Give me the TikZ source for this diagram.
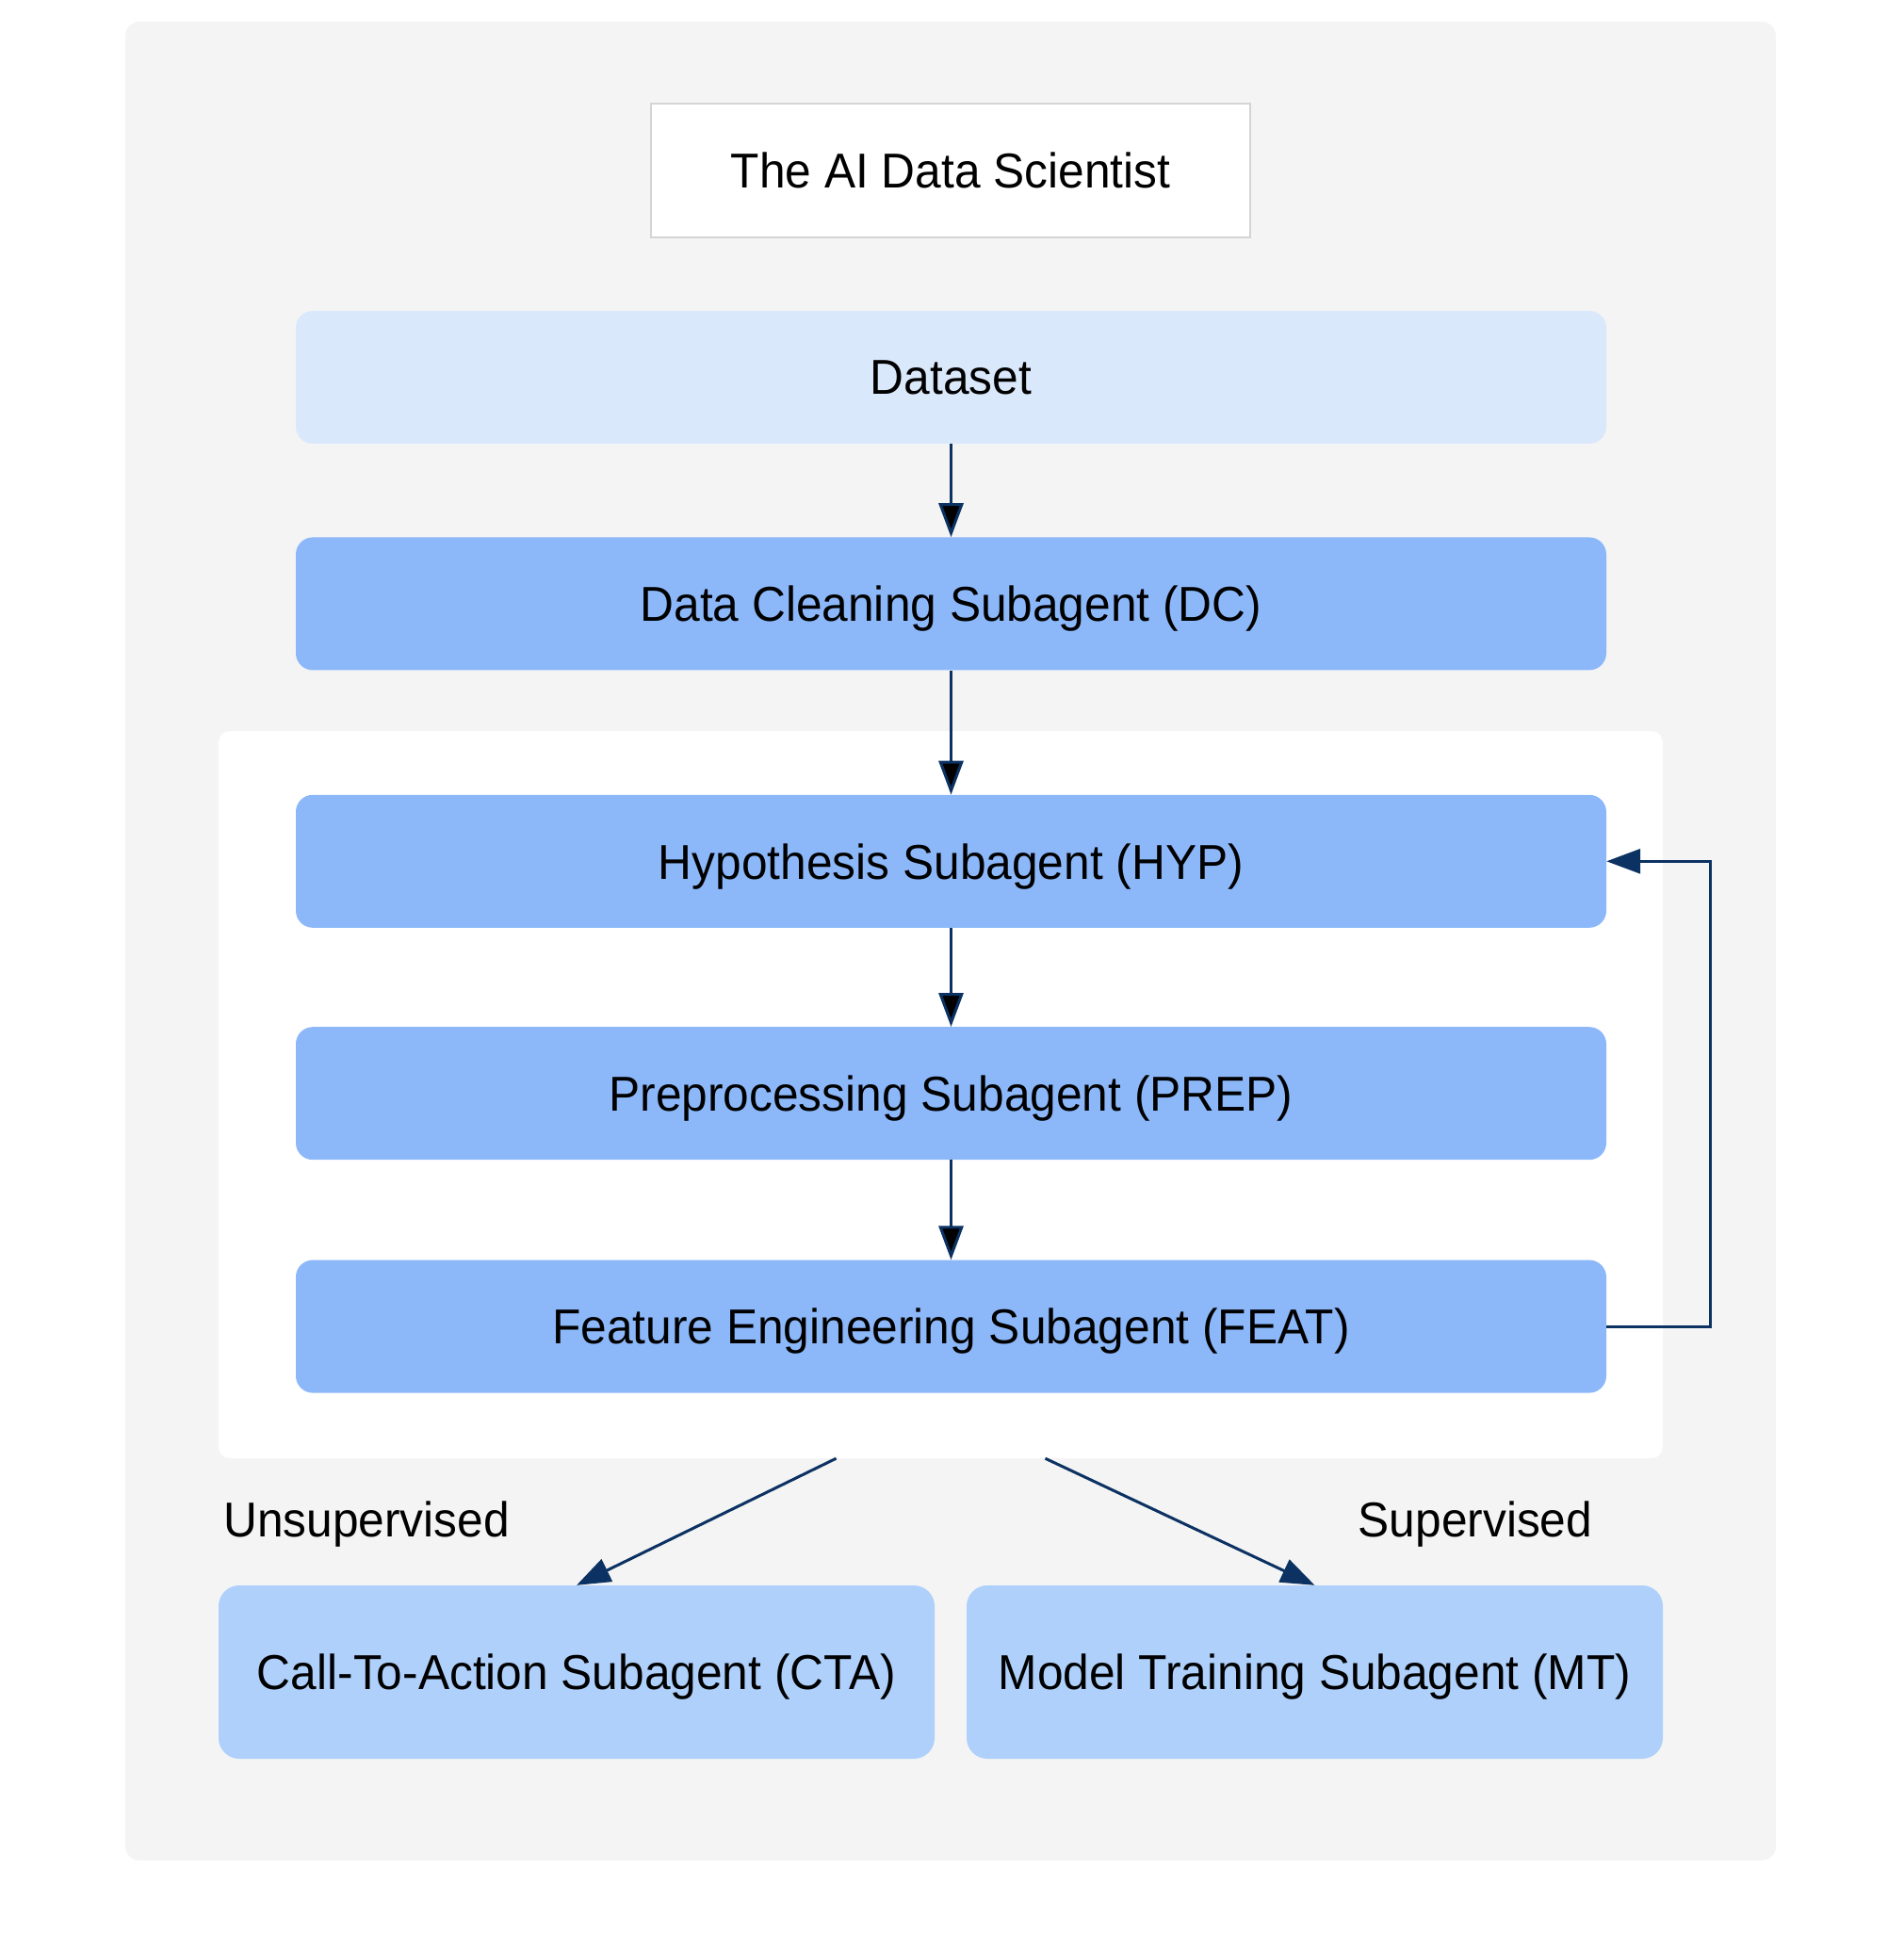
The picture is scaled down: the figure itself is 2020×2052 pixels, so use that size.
\documentclass[tikz,border=0pt]{standalone}
\usepackage{fontspec}
\setmainfont{Liberation Sans}[FakeStretch=0.955]
\usetikzlibrary{arrows.meta,positioning}
\definecolor{panelgray}{HTML}{F4F4F4}
\definecolor{titleline}{HTML}{D4D4D4}
\definecolor{datablue}{HTML}{DAE8FB}
\definecolor{agentblue}{HTML}{8CB8FA}
\definecolor{endblue}{HTML}{AED0FB}
\definecolor{arrownavy}{HTML}{0B3262}
\tikzset{
	every node/.style={
		font=\fontsize{52}{60}\selectfont,
		text depth=0pt
	},
	titlebox/.style={
		shape=rectangle,
		minimum width=636pt,
		minimum height=142pt,
		fill=white,
		draw=titleline,
		line width=2pt,
	},
	agent/.style={
		shape=rectangle,
		minimum width=1391pt,
		minimum height=141pt,
		rounded corners=18pt,
		fill=agentblue,
		text centered
	},
	endagent/.style={
		shape=rectangle,
		minimum height=184pt,
		rounded corners=22pt,
		fill=endblue,
		text centered
	},
	flow/.style={
		draw=arrownavy,
		line width=3pt,
		-{Triangle[length=36pt,width=26pt]}
	}
}

\begin{document}
\begin{tikzpicture}[x=1pt,y=-1pt]
		\useasboundingbox (0,0) rectangle (2020,2052);
		\fill[panelgray, rounded corners=15pt] (133,23) rectangle (1885,1975);
		
		\node[fill=white, rounded corners=12pt, minimum width=1533pt, minimum height=772pt] (loopbox) at (998.5,1162) {};
		
		\node[titlebox] (title) at (1009,181) {The AI Data Scientist};
		\node[agent, fill=datablue] (dataset) at (1009.5,400.5) {Dataset};
		\node[agent] (dc) [below = 99pt of dataset] {Data Cleaning Subagent (DC)};
		\node[agent] (hyp) [below = 132pt of dc] {Hypothesis Subagent (HYP)};
		\node[agent] (prep) [below = 105pt of hyp] {Preprocessing Subagent (PREP)};
		\node[agent] (feat) [below = 106pt of prep] {Feature Engineering Subagent (FEAT)};
		
		\node[endagent, minimum width=760pt] (cta) at (612,1775) {Call-To-Action Subagent (CTA)};
		\node[endagent, minimum width=739pt] (mt) at (1395.5,1775) {Model Training Subagent (MT)};
		
		\node (unsup) at (389,1613) {Unsupervised};
		\node (sup) at (1566,1613) {Supervised};
		
		\path[flow]
		(dataset) edge (dc)
		(dc) edge (hyp)
		(hyp) edge (prep)
		(prep) edge (feat);
		
		\draw[flow] (feat.east) -- ++(110,0) |- (hyp.east);
		\draw[flow] ([xshift=-111pt]loopbox.south) -- (cta.north);
		\draw[flow] ([xshift=111pt]loopbox.south) -- (mt.north);
		
		\end{tikzpicture}
\end{document}
